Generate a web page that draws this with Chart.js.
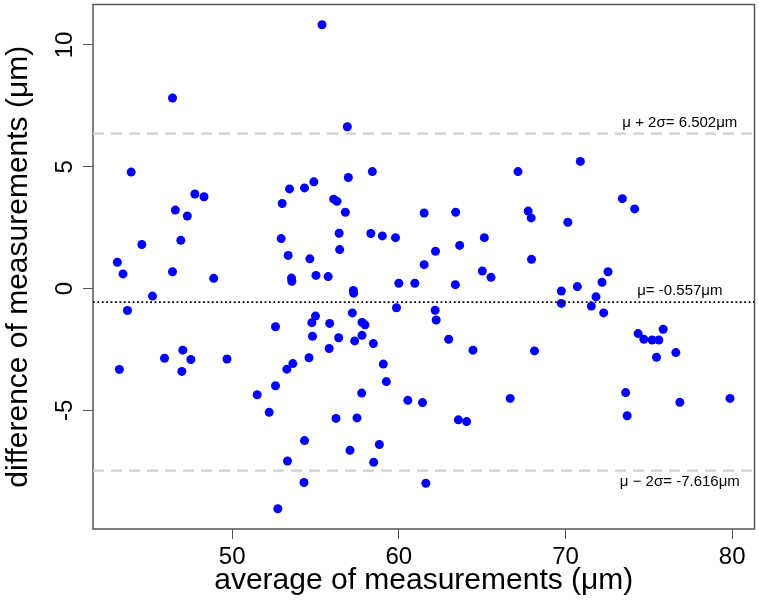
<!DOCTYPE html>
<html>
<head>
<meta charset="utf-8">
<script src="https://cdn.jsdelivr.net/npm/chart.js@4.4.0/dist/chart.umd.min.js"></script>
<style>
  html, body { margin: 0; padding: 0; background: #fff; }
  #wrap { width: 759px; height: 603px; }
</style>
</head>
<body>
<div id="wrap"><canvas id="grafico" width="759" height="603"></canvas></div>
<script>
// media das duas medidas (um)
const mediaMedidas = [
  55.39, 46.42, 43.94, 47.76, 48.31, 46.59, 47.31, 44.58, 46.92, 43.11,
  43.45, 46.42, 53.44, 54.34, 54.90, 53.00, 56.09, 56.29, 56.42, 52.94,
  53.36, 54.66, 56.45, 56.91, 56.97, 58.41, 56.79, 61.52, 63.41, 58.32,
  59.01, 59.80, 62.20, 63.65, 65.13, 61.52, 65.01, 67.15, 67.76, 67.94,
  67.96, 48.89, 53.56, 53.58, 55.03, 55.76, 45.22, 43.72, 52.60, 55.00,
  54.78, 55.85, 54.82, 56.39, 55.82, 54.61, 47.04, 45.94, 47.52, 49.69,
  43.23, 46.98, 53.28, 53.64, 52.60, 51.50, 52.22, 56.23, 54.34, 53.32,
  54.31, 52.74, 65.53, 57.27, 57.29, 60.00, 60.96, 63.39, 59.86, 62.18,
  62.24, 57.21, 57.79, 57.97, 57.35, 57.79, 58.47, 62.99, 64.45, 68.14,
  59.07, 59.25, 57.77, 60.54, 61.42, 66.68, 57.49, 63.57, 64.07, 57.07,
  58.83, 58.49, 61.62, 70.89, 73.41, 74.15, 70.14, 72.55, 72.19, 70.71,
  69.75, 71.83, 69.75, 71.55, 72.29, 75.86, 74.36, 74.70, 75.20, 75.60,
  76.62, 75.46, 73.61, 73.70, 76.86, 79.87
];

// diferenca entre as medidas (um)
const difMedidas = [
  10.83, 7.82, 4.78, 3.88, 3.77, 3.22, 2.98, 1.81, 1.98, 1.08,
  0.60, 0.69, 4.09, 4.13, 4.38, 3.49, 3.67, 3.58, 2.27, 2.05,
  1.36, 1.22, 1.60, 6.64, 4.56, 4.80, 3.13, 3.10, 3.13, 2.26,
  2.16, 2.09, 1.53, 1.77, 2.09, 0.98, 0.72, 4.80, 3.18, 2.90,
  1.20, 0.42, 0.43, 0.30, 0.54, 0.49, -0.31, -0.90, -1.57, -1.13,
  -1.40, -1.43, -1.96, -2.02, -2.46, -2.84, -2.53, -2.86, -2.91, -2.89,
  -3.32, -3.40, -3.31, -3.08, -3.99, -4.36, -5.08, -5.33, -6.24, -7.08,
  -7.96, -9.04, 0.46, -0.08, -0.19, 0.22, 0.22, 0.16, -0.79, -0.89,
  -1.29, -1.00, -1.39, -1.49, -2.15, -1.92, -2.26, -2.08, -2.53, -2.56,
  -3.10, -3.82, -4.29, -4.59, -4.68, -4.51, -5.31, -5.39, -5.46, -6.64,
  -6.40, -7.13, -7.99, 5.22, 3.69, 3.27, 2.72, 0.69, 0.26, 0.08,
  -0.10, -0.34, -0.61, -0.72, -1.00, -1.67, -1.85, -2.08, -2.11, -2.11,
  -2.63, -2.82, -4.27, -5.22, -4.67, -4.51
];

const xTicks = [50, 60, 70, 80];
const yTicks = [-5, 0, 5, 10];
const xLimites = [41.65, 81.34];
const yLimites = [-9.87, 11.66];

// linhas de referencia: media e limites (media +- 1.96 desvios)
const linhaValores = [6.361, -0.557, -7.475];
const linhaTextos = ['μ + 2σ= 6.502μm', 'μ= -0.557μm', 'μ − 2σ= -7.616μm'];
const textoX = 76.86;

const FONTE = '"Liberation Sans", Arial, sans-serif';

const pontos = mediaMedidas.map((x, i) => ({ x: x, y: difMedidas[i] }));
const linhaDados = v => [{ x: xLimites[0], y: v }, { x: xLimites[1], y: v }];

// caixa em volta da area do grafico
const caixa = {
  id: 'caixa',
  beforeDatasetsDraw(chart) {
    const { ctx, chartArea: a } = chart;
    ctx.save();
    ctx.strokeStyle = '#555';
    ctx.lineWidth = 1.5;
    ctx.strokeRect(a.left, a.top, a.right - a.left, a.bottom - a.top);
    ctx.restore();
  }
};

// textos das linhas de referencia
const rotulos = {
  id: 'rotulos',
  afterDatasetsDraw(chart) {
    const { ctx, scales: { x, y } } = chart;
    ctx.save();
    ctx.font = '15px ' + FONTE;
    ctx.fillStyle = '#000';
    ctx.textAlign = 'center';
    ctx.textBaseline = 'alphabetic';
    const px = x.getPixelForValue(textoX);
    linhaValores.forEach((v, i) => {
      const py = y.getPixelForValue(v);
      const dy = i === 2 ? 15 : -7;
      ctx.fillText(linhaTextos[i], px, py + dy);
    });
    ctx.restore();
  }
};

const cinza = { borderColor: '#cfcfcf', borderWidth: 2.2, borderDash: [11, 7] };

new Chart(document.getElementById('grafico'), {
  type: 'scatter',
  data: {
    datasets: [
      { type: 'line', data: linhaDados(linhaValores[0]), pointRadius: 0, ...cinza },
      { type: 'line', data: linhaDados(linhaValores[1]), pointRadius: 0,
        borderColor: '#000', borderWidth: 1.8, borderDash: [1.8, 2.6] },
      { type: 'line', data: linhaDados(linhaValores[2]), pointRadius: 0, ...cinza },
      { data: pontos, backgroundColor: '#0000ff', borderWidth: 0, pointRadius: 4.5 }
    ]
  },
  options: {
    responsive: false,
    animation: false,
    devicePixelRatio: 1,
    layout: { padding: { top: 2, right: 3, left: 0, bottom: 0 } },
    plugins: { legend: { display: false }, tooltip: { enabled: false } },
    scales: {
      x: {
        type: 'linear',
        min: xLimites[0],
        max: xLimites[1],
        afterBuildTicks: s => { s.ticks = xTicks.map(v => ({ value: v })); },
        afterFit: s => { s.height = 74; s.paddingLeft = 0; s.paddingRight = 0; },
        border: { display: false },
        grid: { drawOnChartArea: false, drawTicks: true, tickLength: 10, color: '#555' },
        ticks: { font: { family: FONTE, size: 24 }, color: '#000', padding: 4, maxRotation: 0, autoSkip: false },
        title: {
          display: true,
          text: 'average of measurements (μm)',
          font: { family: FONTE, size: 30 },
          color: '#000',
          padding: { top: 0, bottom: 4 }
        }
      },
      y: {
        type: 'linear',
        min: yLimites[0],
        max: yLimites[1],
        afterBuildTicks: s => { s.ticks = yTicks.map(v => ({ value: v })); },
        afterFit: s => { s.width = 93; s.paddingTop = 0; s.paddingBottom = 0; },
        border: { display: false },
        grid: { drawOnChartArea: false, drawTicks: true, tickLength: 10, color: '#555' },
        ticks: {
          font: { family: FONTE, size: 24 }, color: '#000', padding: 4,
          minRotation: 90, maxRotation: 90, crossAlign: 'center', autoSkip: false
        },
        title: {
          display: true,
          text: 'difference of measurements (μm)',
          font: { family: FONTE, size: 30 },
          color: '#000',
          padding: { top: 1, bottom: 0 }
        }
      }
    }
  },
  plugins: [caixa, rotulos]
});
</script>
</body>
</html>
